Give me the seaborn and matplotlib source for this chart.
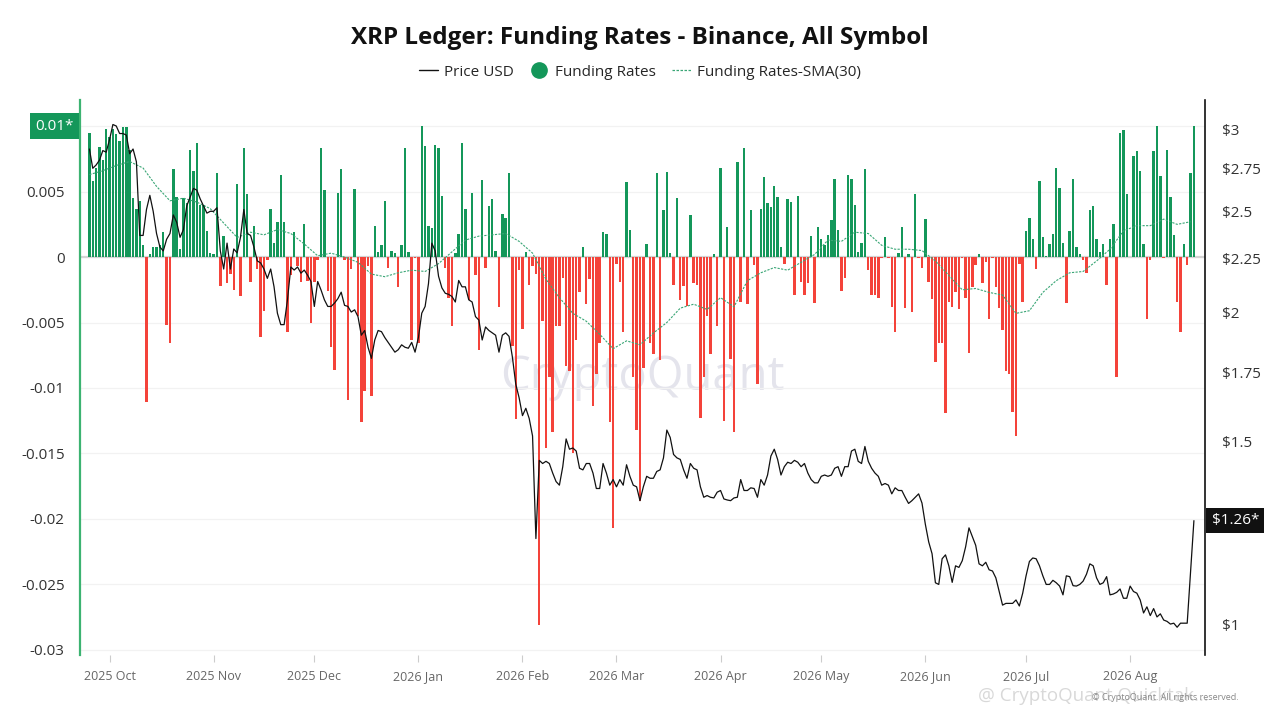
import numpy as np
import pandas as pd
import matplotlib
matplotlib.use('Agg')
import matplotlib.pyplot as plt
import matplotlib.dates as mdates
import matplotlib.transforms as mtransforms
from matplotlib.lines import Line2D
from matplotlib.ticker import FixedLocator, NullLocator
import seaborn as sns

# ---- data, daily from 2025-09-25 ----
start_date = '2025-09-25'

funding_sep = [0.0095, 0.0058, 0.0068, 0.0084, 0.0074, 0.0098]
funding_oct = [0.0092, 0.0098, 0.0094, 0.0089, 0.0099, 0.0099, 0.0082, 0.0045, 0.0037, 0.0043,
               0.0009, -0.0111, 0.0002, 0.0008, 0.0008, 0.0009, 0.0019, -0.0052, -0.0066, 0.0067,
               0.0046, 0.0006, 0.0045, 0.0041, 0.0082, 0.0066, 0.0087, 0.0040, 0.0040, 0.0020,
               0.0003]
funding_nov = [0.0002, 0.0064, -0.0022, 0.0016, -0.0020, -0.0013, -0.0025, 0.0056, -0.0030, 0.0083,
               0.0048, -0.0019, 0.0024, -0.0009, -0.0061, -0.0041, -0.0002, 0.0037, 0.0011, 0.0027,
               0.0063, 0.0027, -0.0057, -0.0014, 0.0019, -0.0007, -0.0019, 0.0025, -0.0018, -0.0050]
funding_dec = [-0.0019, -0.0002, 0.0083, 0.0051, -0.0026, -0.0069, -0.0086, 0.0049, 0.0067, -0.0002,
               -0.0109, -0.0009, 0.0052, -0.0045, -0.0126, -0.0102, -0.0007, -0.0106, 0.0024, 0.0004,
               0.0009, 0.0043, -0.0008, 0.0005, 0.0003, -0.0023, 0.0009, 0.0083, 0.0004, -0.0063,
               -0.0001]
funding_jan = [-0.0066, 0.0100, 0.0085, 0.0024, 0.0022, 0.0086, 0.0083, 0.0047, -0.0008, -0.0031,
               -0.0053, 0.0003, 0.0018, 0.0087, 0.0037, -0.0033, 0.0049, -0.0014, -0.0071, 0.0059,
               -0.0008, 0.0039, 0.0044, 0.0005, -0.0038, 0.0033, 0.0030, 0.0064, -0.0068, -0.0124,
               -0.0010]
funding_feb = [-0.0055, 0.0004, -0.0021, -0.0007, -0.0013, -0.0281, -0.0049, -0.0146, -0.0092, -0.0134,
               -0.0053, -0.0053, -0.0016, -0.0083, -0.0087, -0.0150, -0.0063, -0.0027, 0.0008, -0.0036,
               -0.0017, -0.0114, -0.0089, -0.0066, 0.0019, 0.0018, -0.0126, -0.0207]
funding_mar = [-0.0005, -0.0019, -0.0057, 0.0057, 0.0021, -0.0092, -0.0132, -0.0186, -0.0085, 0.0010,
               -0.0066, -0.0074, 0.0064, -0.0079, 0.0036, 0.0065, 0.0003, -0.0021, 0.0045, -0.0033,
               -0.0022, -0.0037, 0.0032, -0.0020, -0.0021, -0.0123, -0.0092, -0.0045, -0.0074, 0.0002,
               -0.0053]
funding_apr = [0.0068, -0.0125, 0.0023, -0.0078, -0.0134, 0.0073, -0.0034, 0.0083, -0.0036, 0.0036,
               -0.0006, -0.0097, 0.0037, 0.0061, 0.0041, 0.0038, 0.0054, 0.0046, 0.0008, -0.0005,
               0.0044, 0.0042, -0.0029, 0.0047, -0.0019, -0.0029, -0.0020, 0.0016, -0.0035, 0.0023]
funding_may = [0.0014, 0.0009, 0.0017, 0.0028, 0.0060, 0.0021, -0.0026, -0.0016, 0.0063, 0.0060,
               0.0040, 0.0004, 0.0011, 0.0067, -0.0010, -0.0029, -0.0029, -0.0031, -0.0001, 0.0015,
               -0.0001, -0.0038, -0.0057, 0.0003, 0.0023, -0.0039, 0.0002, -0.0042, 0.0048, -0.0001,
               -0.0008]
funding_jun = [0.0029, -0.0019, -0.0032, -0.0080, -0.0066, -0.0066, -0.0119, -0.0034, -0.0038, -0.0027,
               -0.0040, -0.0001, -0.0031, -0.0073, -0.0023, -0.0006, 0.0002, -0.0020, -0.0004, -0.0047,
               -0.0001, -0.0023, -0.0039, -0.0056, -0.0087, -0.0089, -0.0118, -0.0137, -0.0005, -0.0034]
funding_jul = [0.0020, 0.0030, 0.0014, -0.0009, 0.0058, 0.0015, 0.0001, 0.0010, 0.0018, 0.0068,
               0.0053, 0.0011, -0.0035, 0.0020, 0.0060, 0.0008, 0.0002, -0.0002, -0.0012, 0.0036,
               0.0039, 0.0014, 0.0004, 0.0010, -0.0021, 0.0014, 0.0025, -0.0092, 0.0095, 0.0097,
               0.0048]
funding_aug = [0.0000, 0.0077, 0.0081, 0.0066, 0.0010, -0.0047, -0.0002, 0.0081, 0.0100, 0.0062,
               -0.0001, 0.0082, 0.0046, 0.0017, -0.0034, -0.0057, 0.0010, -0.0006, 0.0064, 0.0100]

price_sep = [2.87, 2.75, 2.77, 2.80, 2.86, 2.85]
price_oct = [2.93, 3.03, 3.02, 2.97, 2.97, 2.96, 2.84, 2.87, 2.79, 2.37,
             2.37, 2.51, 2.59, 2.50, 2.38, 2.31, 2.29, 2.35, 2.38, 2.48,
             2.44, 2.36, 2.40, 2.53, 2.58, 2.63, 2.62, 2.57, 2.53, 2.49,
             2.50]
price_nov = [2.50, 2.52, 2.29, 2.20, 2.33, 2.20, 2.30, 2.28, 2.36, 2.51,
             2.38, 2.37, 2.31, 2.24, 2.23, 2.20, 2.155, 2.20, 2.115, 1.995,
             1.945, 1.945, 2.055, 2.21, 2.195, 2.21, 2.18, 2.195, 2.17, 2.14]
price_dec = [2.025, 2.14, 2.10, 2.055, 2.025, 2.025, 2.04, 2.06, 2.09, 2.03,
             2.025, 2.00, 2.01, 1.98, 1.90, 1.92, 1.85, 1.805, 1.88, 1.92,
             1.915, 1.89, 1.87, 1.85, 1.83, 1.84, 1.86, 1.85, 1.846, 1.87,
             1.83]
price_jan = [1.89, 1.995, 2.025, 2.13, 2.33, 2.29, 2.165, 2.11, 2.085, 2.08,
             2.07, 2.045, 2.145, 2.115, 2.115, 2.055, 2.045, 1.98, 1.965, 1.88,
             1.935, 1.92, 1.91, 1.90, 1.83, 1.90, 1.91, 1.895, 1.81, 1.705,
             1.654]
price_feb = [1.59, 1.616, 1.58, 1.52, 1.211, 1.44, 1.43, 1.437, 1.43, 1.40,
             1.374, 1.363, 1.42, 1.51, 1.476, 1.48, 1.47, 1.415, 1.41, 1.43,
             1.43, 1.40, 1.353, 1.353, 1.43, 1.40, 1.363, 1.38]
price_mar = [1.358, 1.38, 1.363, 1.426, 1.39, 1.363, 1.358, 1.317, 1.358, 1.39,
             1.384, 1.384, 1.405, 1.41, 1.448, 1.54, 1.515, 1.459, 1.448, 1.443,
             1.41, 1.384, 1.43, 1.415, 1.41, 1.358, 1.327, 1.332, 1.327, 1.325,
             1.342]
price_apr = [1.347, 1.322, 1.319, 1.317, 1.325, 1.327, 1.38, 1.347, 1.347, 1.355,
             1.353, 1.327, 1.38, 1.363, 1.394, 1.454, 1.476, 1.443, 1.394, 1.42,
             1.434, 1.43, 1.44, 1.434, 1.42, 1.43, 1.40, 1.38, 1.37, 1.37]
price_may = [1.39, 1.394, 1.39, 1.394, 1.415, 1.42, 1.39, 1.42, 1.42, 1.47,
             1.476, 1.437, 1.43, 1.485, 1.437, 1.415, 1.40, 1.39, 1.363, 1.368,
             1.363, 1.337, 1.355, 1.347, 1.347, 1.327, 1.309, 1.317, 1.327, 1.337,
             1.31]
price_jun = [1.25, 1.202, 1.171, 1.098, 1.094, 1.158, 1.168, 1.14, 1.099, 1.14,
             1.136, 1.153, 1.189, 1.24, 1.216, 1.193, 1.145, 1.14, 1.149, 1.13,
             1.127, 1.11, 1.077, 1.045, 1.049, 1.049, 1.049, 1.057, 1.043, 1.073]
price_jul = [1.115, 1.151, 1.16, 1.158, 1.14, 1.115, 1.094, 1.094, 1.104, 1.098,
             1.09, 1.069, 1.115, 1.113, 1.091, 1.09, 1.094, 1.102, 1.119, 1.145,
             1.14, 1.11, 1.094, 1.098, 1.113, 1.069, 1.071, 1.075, 1.083, 1.061,
             1.061]
price_aug = [1.09, 1.077, 1.073, 1.057, 1.027, 1.041, 1.021, 1.037, 1.018, 1.025,
             1.011, 1.008, 1.002, 1.004, 0.995, 1.004, 1.004, 1.004, 1.123, 1.26]

# 30-day SMA of funding rates, read every 4 days
sma_values = [0.0063, 0.0066, 0.0070, 0.0073, 0.0068, 0.0054, 0.0043, 0.0045, 0.0042, 0.0037,
              0.0026, 0.0015, 0.0019, 0.0017, 0.0021, 0.0018, 0.0010, 0.0001, 0.0003, 0.0000,
              -0.0004, -0.0013, -0.0015, -0.0012, -0.0010, -0.0011, -0.0005, 0.0004, 0.0013, 0.0016,
              0.0017, 0.0018, 0.0012, 0.0003, -0.0017, -0.0031, -0.0043, -0.0049, -0.0059, -0.0070,
              -0.0064, -0.0067, -0.0058, -0.0050, -0.0039, -0.0036, -0.0040, -0.0031, -0.0038, -0.0018,
              -0.0012, -0.0008, -0.0010, -0.0004, 0.0002, 0.0013, 0.0012, 0.0019, 0.0018, 0.0009,
              0.0006, 0.0006, 0.0005, -0.0003, -0.0014, -0.0025, -0.0024, -0.0027, -0.0029, -0.0043,
              -0.0041, -0.0027, -0.0018, -0.0012, -0.0011, -0.0003, 0.0006, 0.0020, 0.0024, 0.0024,
              0.0029, 0.0025, 0.0027]

left_ticks = [0.01, 0.005, 0, -0.005, -0.01, -0.015, -0.02, -0.025, -0.03]
left_labels = ['', '0.005', '0', '-0.005', '-0.01', '-0.015', '-0.02', '-0.025', '-0.03']
right_ticks = [1, 1.5, 1.75, 2, 2.25, 2.5, 2.75, 3]
right_labels = ['$1', '$1.5', '$1.75', '$2', '$2.25', '$2.5', '$2.75', '$3']

funding = np.array(funding_sep + funding_oct + funding_nov + funding_dec + funding_jan + funding_feb
                   + funding_mar + funding_apr + funding_may + funding_jun + funding_jul + funding_aug)
price = np.array(price_sep + price_oct + price_nov + price_dec + price_jan + price_feb
                 + price_mar + price_apr + price_may + price_jun + price_jul + price_aug)
dates = pd.date_range(start_date, periods=len(funding), freq='D')
sma_dates = pd.date_range(start_date, periods=len(sma_values), freq='4D')

GREEN = '#14975a'
RED = '#f4433a'
SMA_GREEN = '#3aa676'

sns.set_theme(style='white')
plt.rcParams['font.family'] = ['Open Sans', 'DejaVu Sans']

fig = plt.figure(figsize=(12.8, 7.2), dpi=100)
ax = fig.add_axes([0.0625, 0.0903, 0.8789, 0.7708])

# bars
ax.axhline(0, color='#d4d4d4', lw=1.6, zorder=1)
bar_colors = np.where(funding >= 0, GREEN, RED)
ax.bar(dates, funding, width=0.72, color=bar_colors, linewidth=0, zorder=2)

# SMA line
sns.lineplot(x=sma_dates, y=sma_values, ax=ax, color=SMA_GREEN, lw=0.8,
             linestyle=(0, (2, 1.2)), zorder=3)

ax.set_ylim(-0.0304, 0.0120)
ax.yaxis.set_major_locator(FixedLocator(left_ticks))
ax.set_yticklabels(left_labels)
ax.yaxis.grid(True, color='#f2f2f2', lw=0.9)
ax.set_axisbelow(True)
ax.tick_params(axis='y', length=0, pad=11, labelsize=11, labelcolor='#333333')
ax.set_xlabel('')
ax.set_ylabel('')

x0 = pd.Timestamp(start_date) - pd.Timedelta(days=2.8)
x1 = pd.Timestamp(start_date) + pd.Timedelta(days=332.3)
ax.set_xlim(x0, x1)
ax.xaxis.set_major_locator(mdates.MonthLocator())
ax.xaxis.set_major_formatter(mdates.DateFormatter('%Y %b'))
ax.tick_params(axis='x', length=5, width=0.8, color='#cccccc', pad=6,
               labelsize=9, labelcolor='#666666', bottom=True)

for s in ['top', 'right', 'bottom']:
    ax.spines[s].set_visible(False)
ax.spines['left'].set_color('#3cb371')
ax.spines['left'].set_linewidth(1.6)

# price on log twin axis
ax2 = ax.twinx()
ax2.set_yscale('log')
sns.lineplot(x=dates, y=price, ax=ax2, color='#111111', lw=0.9, zorder=4)
ax2.set_ylim(0.9357, 3.199)
ax2.yaxis.set_major_locator(FixedLocator(right_ticks))
ax2.yaxis.set_minor_locator(NullLocator())
ax2.set_yticklabels(right_labels)
ax2.tick_params(axis='y', length=0, pad=12, labelsize=11, labelcolor='#333333')
ax2.set_ylabel('')
ax2.set_xlabel('')
for s in ['top', 'left', 'bottom']:
    ax2.spines[s].set_visible(False)
ax2.spines['right'].set_color('#111111')
ax2.spines['right'].set_linewidth(1.2)
ax2.set_xlim(x0, x1)

# badges
trans_l = mtransforms.blended_transform_factory(ax.transAxes, ax.transData)
ax.text(-0.006, 0.01, '0.01*', transform=trans_l, ha='right', va='center', fontsize=11,
        color='white', bbox=dict(boxstyle='square,pad=0.35', fc=GREEN, ec='none'), clip_on=False)
trans_r = mtransforms.blended_transform_factory(ax2.transAxes, ax2.transData)
ax2.text(1.006, price[-1], f'${price[-1]:.2f}*', transform=trans_r, ha='left', va='center',
         fontsize=11, color='white', bbox=dict(boxstyle='square,pad=0.35', fc='#111111', ec='none'),
         clip_on=False)

# watermark
ax.text(0.5, 0.5, 'CryptoQuant', transform=ax.transAxes, ha='center', va='center',
        fontsize=34, color='#e4e4ec', zorder=0)

# title and legend
fig.text(0.5, 1 - 38 / 720, 'XRP Ledger: Funding Rates - Binance, All Symbol', ha='center',
         va='center', fontsize=17.5, fontweight='bold', color='#111111')
handles = [
    Line2D([0], [0], color='#111111', lw=1),
    Line2D([0], [0], color=GREEN, marker='o', markersize=11, lw=0),
    Line2D([0], [0], color=SMA_GREEN, lw=0.9, linestyle=(0, (2, 1.2))),
]
fig.legend(handles, ['Price USD', 'Funding Rates', 'Funding Rates-SMA(30)'], loc='center',
           bbox_to_anchor=(0.5, 1 - 72 / 720), ncol=3, frameon=False, fontsize=11,
           handlelength=1.2, handletextpad=0.4, columnspacing=1.1)

fig.text(978 / 1280, 1 - 696 / 720, '@ CryptoQuant Quicktak...', fontsize=13.5,
         color='#cfcfcf', ha='left', va='center', alpha=0.8)
fig.text(1092 / 1280, 1 - 697 / 720, '\u00a9 CryptoQuant. All rights reserved.', fontsize=6.5,
         color='#888888', ha='left', va='center')

fig.savefig('out.png', dpi=100)
